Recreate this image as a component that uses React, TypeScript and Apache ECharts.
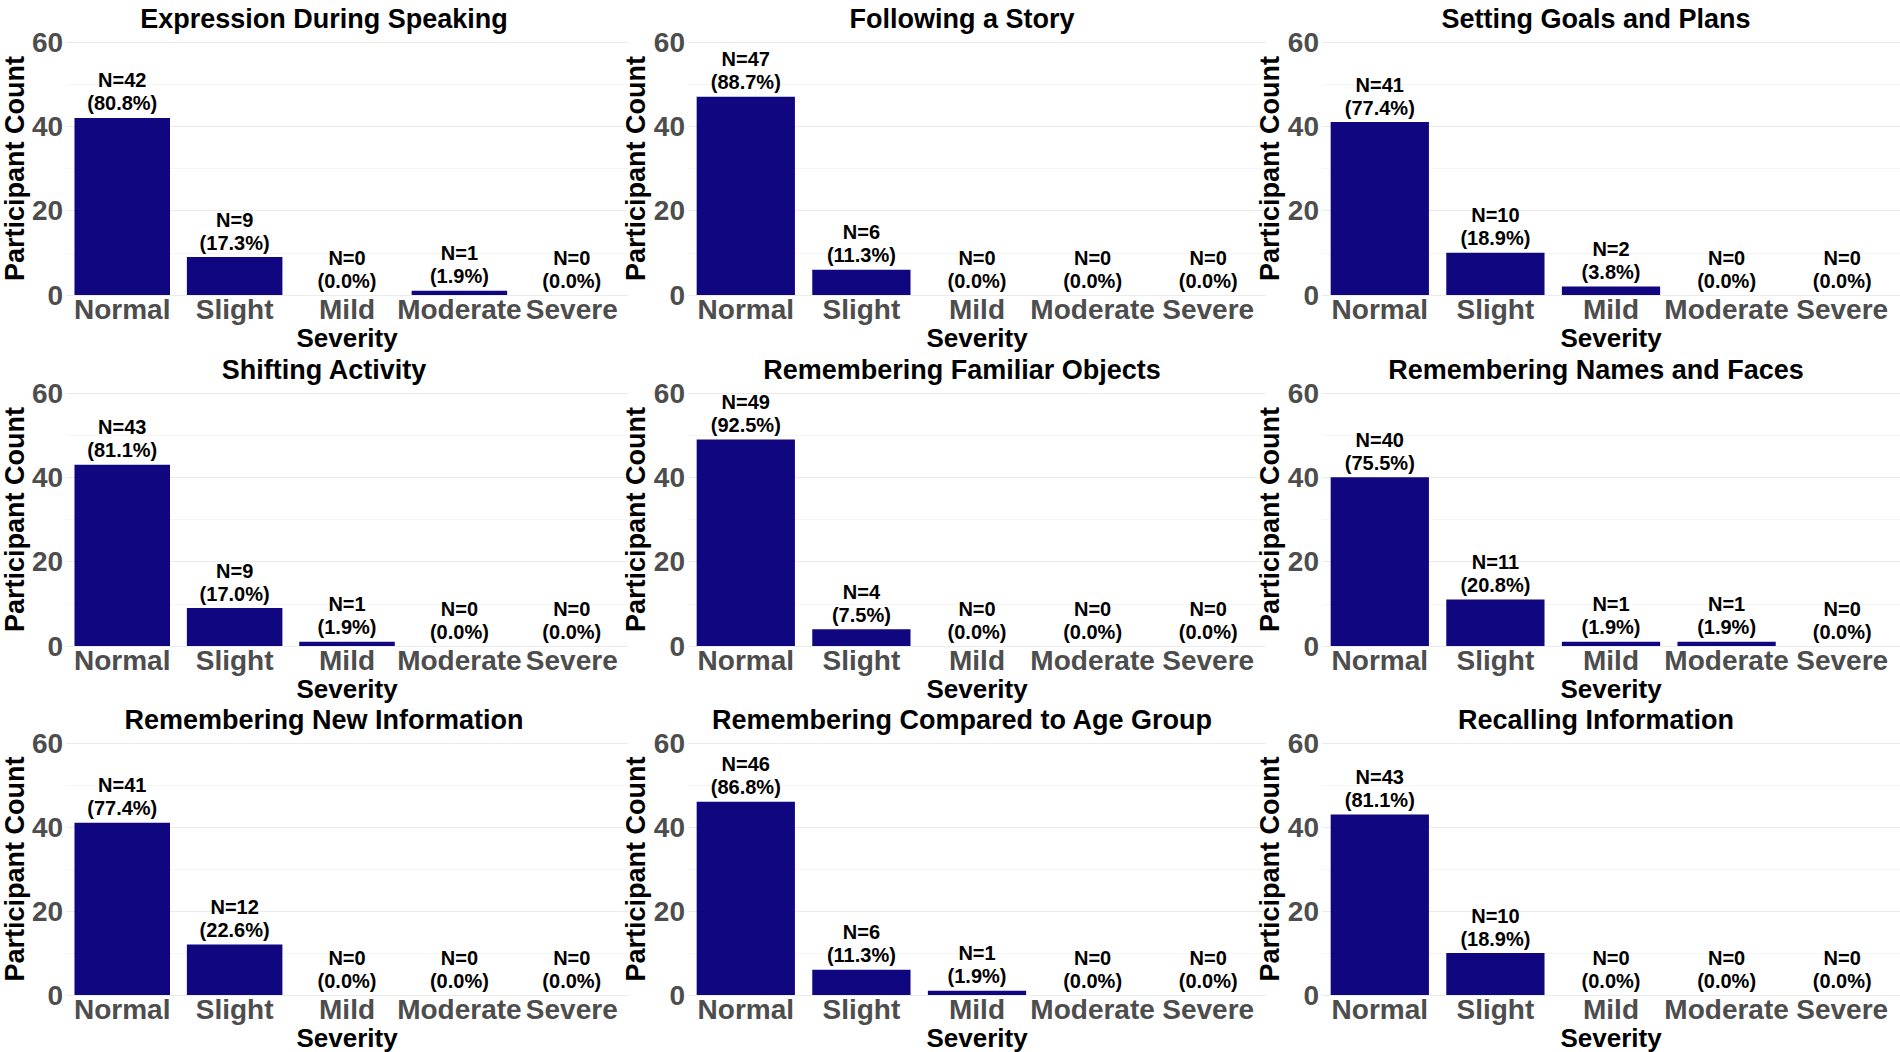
import { useEffect, useRef } from 'react'
import * as echarts from 'echarts'

const categories = ['Normal', 'Slight', 'Mild', 'Moderate', 'Severe']
const titles = [
  'Expression During Speaking',
  'Following a Story',
  'Setting Goals and Plans',
  'Shifting Activity',
  'Remembering Familiar Objects',
  'Remembering Names and Faces',
  'Remembering New Information',
  'Remembering Compared to Age Group',
  'Recalling Information',
]
const counts = [
  [42, 9, 0, 1, 0],
  [47, 6, 0, 0, 0],
  [41, 10, 2, 0, 0],
  [43, 9, 1, 0, 0],
  [49, 4, 0, 0, 0],
  [40, 11, 1, 1, 0],
  [41, 12, 0, 0, 0],
  [46, 6, 1, 0, 0],
  [43, 10, 0, 0, 0],
]

const FONT = '"Liberation Sans", Arial, sans-serif'
const colLeft = [50, 688, 1322]
const plotW = 578
const rowTop = [42, 393, 743]
const plotH = 253

export default function App() {
  const ref = useRef<HTMLDivElement>(null)

  useEffect(() => {
    document.body.style.margin = '0'
    if (!ref.current) return
    const chart = echarts.init(ref.current, null, { renderer: 'svg' })
    const grid: any[] = []
    const xAxis: any[] = []
    const yAxis: any[] = []
    const series: any[] = []
    const title: any[] = []
    titles.forEach((t, i) => {
      const r = Math.floor(i / 3)
      const c = i % 3
      const left = colLeft[c]
      const top = rowTop[r]
      const total = counts[i].reduce((a, b) => a + b, 0)
      grid.push({ left, top, width: plotW, height: plotH })
      title.push({
        text: t,
        left: left + plotW / 2 - 20,
        top: top - 42,
        textAlign: 'center',
        textStyle: { fontFamily: FONT, fontSize: 27, fontWeight: 'bold', color: '#000' },
      })
      xAxis.push({
        type: 'category',
        gridIndex: i,
        data: categories,
        name: 'Severity',
        nameLocation: 'middle',
        nameGap: 30,
        nameTextStyle: { fontFamily: FONT, fontSize: 26, fontWeight: 'bold', color: '#000' },
        axisLine: { show: false },
        axisTick: { show: false },
        axisLabel: { fontFamily: FONT, fontSize: 28, fontWeight: 'bold', color: '#4d4d4d', margin: 0, interval: 0 },
        splitLine: { show: false },
      })
      yAxis.push({
        type: 'value',
        gridIndex: i,
        min: 0,
        max: 60,
        interval: 20,
        name: 'Participant Count',
        nameLocation: 'middle',
        nameGap: 36,
        nameTextStyle: { fontFamily: FONT, fontSize: 27, fontWeight: 'bold', color: '#000' },
        axisLabel: { fontFamily: FONT, fontSize: 28, fontWeight: 'bold', color: '#4d4d4d', margin: 3 },
        splitLine: { lineStyle: { color: '#ebebeb' } },
        minorTick: { show: false, splitNumber: 2 },
        minorSplitLine: { show: true, lineStyle: { color: '#f5f5f5' } },
      })
      series.push({
        type: 'bar',
        xAxisIndex: i,
        yAxisIndex: i,
        data: counts[i],
        barCategoryGap: '15%',
        itemStyle: { color: '#10067f' },
        label: {
          show: true,
          position: 'top',
          distance: 3,
          fontFamily: FONT,
          fontSize: 20,
          fontWeight: 'bold',
          color: '#000',
          lineHeight: 23,
          formatter: (p: any) => `N=${p.value}\n(${((p.value / total) * 100).toFixed(1)}%)`,
        },
      })
    })
    chart.setOption({ animation: false, title, grid, xAxis, yAxis, series })
    return () => chart.dispose()
  }, [])

  return <div ref={ref} style={{ width: 1900, height: 1052, background: '#fff' }} />
}
